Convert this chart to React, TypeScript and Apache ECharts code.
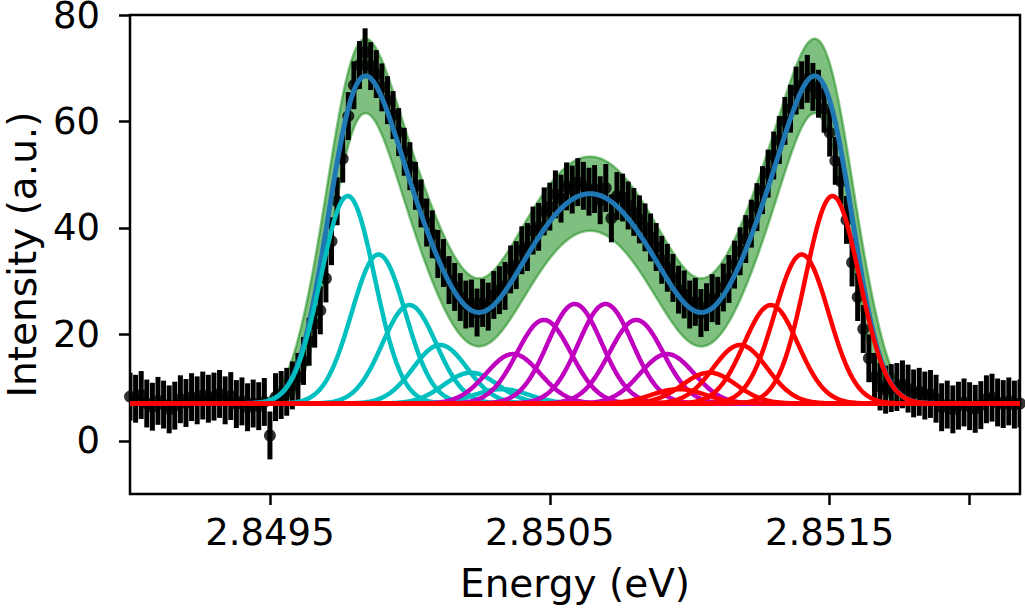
import React, { useEffect, useRef } from "react";
import * as echarts from "echarts";

// Energy grid of the measured spectrum
const E_START = 2.849;
const E_STEP = 0.00002;

// Measured intensities (a.u.), one per energy step
const INTENSITY = [
  8.3, 7.9, 8.6, 7.0, 6.4, 7.5, 6.8, 5.9, 6.6, 7.8,
  7.1, 8.2, 7.6, 8.5, 7.9, 8.3, 8.8, 7.6, 8.4, 6.9,
  7.4, 6.3, 7.0, 6.5, 7.3, 1.0, 8.2, 8.6, 9.2, 10.4,
  12.0, 15.0, 18.6, 22.0, 24.5, 30.5, 37.5, 45.0, 53.0, 61.0,
  66.8, 70.6, 73.0, 70.4, 68.9, 66.4, 64.0, 61.2, 58.0, 54.3,
  51.6, 47.9, 44.6, 41.0, 38.8, 35.1, 33.4, 30.2, 28.9, 27.0,
  25.6, 25.8, 24.1, 25.9, 25.2, 27.4, 28.3, 29.1, 32.2, 33.0,
  35.8, 36.4, 39.5, 40.2, 43.1, 44.0, 46.3, 45.5, 47.8, 47.2,
  48.6, 47.9, 46.8, 47.3, 45.2, 47.5, 41.8, 46.0, 45.7, 44.2,
  43.0, 41.6, 40.1, 38.2, 36.4, 34.0, 32.5, 30.6, 28.4, 27.5,
  25.6, 26.1, 24.0, 25.1, 26.8, 26.3, 28.8, 30.4, 33.1, 35.6,
  37.9, 40.8, 43.9, 47.1, 50.2, 53.6, 56.5, 60.1, 62.4, 65.8,
  66.8, 68.0, 66.5, 65.2, 62.4, 57.9, 52.6, 48.7, 41.5, 33.5,
  27.0, 21.0, 15.5, 12.0, 10.2, 9.6, 9.9, 10.1, 10.6, 9.8,
  8.9, 9.2, 8.5, 8.8, 7.9, 6.3, 6.8, 5.9, 6.6, 7.2,
  6.5, 6.0, 6.7, 7.8, 8.1, 7.2, 6.9, 7.4, 6.8, 7.0,
  7.0,
];
const INTENSITY_ERR = 4.5;

// Fitted model: flat background plus Gaussian components sharing one width
const BASELINE = 7;
const SIGMA = 0.0000965;
const CYAN_CENTERS = [2.849778, 2.849888, 2.849998, 2.850108, 2.850218, 2.850328];
const CYAN_AMPS = [39, 28, 18.5, 11, 5.8, 2.7];
const MAGENTA_CENTERS = [2.850369, 2.850479, 2.850589, 2.850699, 2.850809, 2.850919];
const MAGENTA_AMPS = [9.3, 15.7, 18.7, 18.7, 15.7, 9.3];
const RED_CENTERS = [2.85096, 2.85107, 2.85118, 2.85129, 2.8514, 2.85151];
const RED_AMPS = [2.7, 5.8, 11, 18.5, 28, 39];
const BAND_HALF = 7;

// Axes
const X_MIN = 2.849;
const X_MAX = 2.85218;
const X_TICKS = [2.8495, 2.8505, 2.8515, 2.852];
const X_LABELS = [2.8495, 2.8505, 2.8515];
const Y_MIN = -10;
const Y_MAX = 80;
const Y_TICKS = [0, 20, 40, 60, 80];

const FONT = "DejaVu Sans";
const TICK_FONT_SIZE = 37;
const TITLE_FONT_SIZE = 39;

function gauss(e: number, c: number, a: number): number {
  const d = (e - c) / SIGMA;
  return a * Math.exp(-0.5 * d * d);
}

function buildOption() {
  const points = INTENSITY.map((v, i) => [E_START + i * E_STEP, v]);

  const n = 700;
  const grid: number[] = [];
  for (let i = 0; i <= n; i++) grid.push(X_MIN + ((X_MAX - X_MIN) * i) / n);

  const comps: { c: number; a: number; color: string }[] = [];
  CYAN_CENTERS.forEach((c, i) => comps.push({ c, a: CYAN_AMPS[i], color: "#00bfbf" }));
  MAGENTA_CENTERS.forEach((c, i) => comps.push({ c, a: MAGENTA_AMPS[i], color: "#bf00bf" }));
  RED_CENTERS.forEach((c, i) => comps.push({ c, a: RED_AMPS[i], color: "#ff0000" }));

  const fit = grid.map((e) => {
    let s = BASELINE;
    comps.forEach((p) => (s += gauss(e, p.c, p.a)));
    return s;
  });
  const half = fit.map((f) => BAND_HALF * (1 - Math.exp(-(f - BASELINE) / BAND_HALF)));
  const upper = grid.map((e, i) => [e, fit[i] + half[i]]);
  const lower = grid.map((e, i) => [e, fit[i] - half[i]]);

  const series: any[] = [];

  // confidence band of the fit
  series.push({
    type: "custom",
    silent: true,
    clip: true,
    data: [[X_MIN, 0]],
    encode: { x: 0, y: 1 },
    renderItem: (_params: any, api: any) => {
      const up = upper.map((p) => api.coord(p));
      const lo = lower.map((p) => api.coord(p));
      return {
        type: "group",
        children: [
          {
            type: "polygon",
            shape: { points: up.concat(lo.slice().reverse()) },
            style: { fill: "rgba(0,128,0,0.5)", stroke: "none" },
          },
          {
            type: "polyline",
            shape: { points: up },
            style: { stroke: "rgba(0,128,0,0.45)", lineWidth: 2.5, fill: "none" },
          },
          {
            type: "polyline",
            shape: { points: lo },
            style: { stroke: "rgba(0,128,0,0.45)", lineWidth: 2.5, fill: "none" },
          },
        ],
      };
    },
  });

  // error bars
  series.push({
    type: "custom",
    silent: true,
    clip: true,
    data: points.map((p) => [p[0], p[1], INTENSITY_ERR]),
    encode: { x: 0, y: 1 },
    renderItem: (_params: any, api: any) => {
      const x = api.value(0);
      const y = api.value(1);
      const err = api.value(2);
      const top = api.coord([x, y + err]);
      const bot = api.coord([x, y - err]);
      return {
        type: "line",
        shape: { x1: top[0], y1: top[1], x2: bot[0], y2: bot[1] },
        style: { stroke: "#000000", lineWidth: 5 },
      };
    },
  });

  // data points
  series.push({
    type: "scatter",
    silent: true,
    clip: true,
    data: points,
    symbol: "circle",
    symbolSize: 12,
    itemStyle: { color: "#000000" },
  });

  // total fit
  series.push({
    type: "line",
    silent: true,
    clip: true,
    showSymbol: false,
    data: grid.map((e, i) => [e, fit[i]]),
    lineStyle: { color: "#1f77b4", width: 5 },
  });

  // individual components on the background
  comps.forEach((p) => {
    series.push({
      type: "line",
      silent: true,
      clip: true,
      showSymbol: false,
      data: grid.map((e) => [e, BASELINE + gauss(e, p.c, p.a)]),
      lineStyle: { color: p.color, width: 4.5 },
    });
  });

  const tickText = { color: "#000000", fontFamily: FONT, fontSize: TICK_FONT_SIZE };
  const titleText = { color: "#000000", fontFamily: FONT, fontSize: TITLE_FONT_SIZE };

  return {
    animation: false,
    backgroundColor: "#ffffff",
    grid: {
      left: 130,
      right: 5,
      top: 15,
      bottom: 120,
      outerBoundsMode: "none",
      containLabel: false,
      show: true,
      borderColor: "#000000",
      borderWidth: 2.5,
      backgroundColor: "transparent",
    },
    xAxis: {
      type: "value",
      min: X_MIN,
      max: X_MAX,
      name: "Energy (eV)",
      nameLocation: "middle",
      nameGap: 70,
      nameTextStyle: titleText,
      axisLine: { show: false, onZero: false },
      splitLine: { show: false },
      axisTick: {
        show: true,
        inside: false,
        length: 11,
        customValues: X_TICKS,
        lineStyle: { color: "#000000", width: 2.5 },
      },
      axisLabel: {
        ...tickText,
        margin: 20,
        customValues: X_LABELS,
        formatter: (v: number) => v.toFixed(4),
      },
    },
    yAxis: {
      type: "value",
      min: Y_MIN,
      max: Y_MAX,
      name: "Intensity (a.u.)",
      nameLocation: "middle",
      nameRotate: 90,
      nameGap: 88,
      nameTextStyle: titleText,
      axisLine: { show: false, onZero: false },
      splitLine: { show: false },
      axisTick: {
        show: true,
        inside: false,
        length: 11,
        customValues: Y_TICKS,
        lineStyle: { color: "#000000", width: 2.5 },
      },
      axisLabel: {
        ...tickText,
        lineHeight: 28,
        margin: 30,
        customValues: Y_TICKS,
        formatter: (v: number) => String(v),
      },
    },
    series,
  };
}

export default function App() {
  const ref = useRef<HTMLDivElement>(null);
  useEffect(() => {
    if (!ref.current) return;
    const chart = echarts.init(ref.current, undefined, { renderer: "svg" });
    chart.setOption(buildOption() as any);
    return () => chart.dispose();
  }, []);
  return (
    <div
      ref={ref}
      style={{ position: "fixed", left: 0, top: 0, width: 1025, height: 614, background: "#fff" }}
    />
  );
}
